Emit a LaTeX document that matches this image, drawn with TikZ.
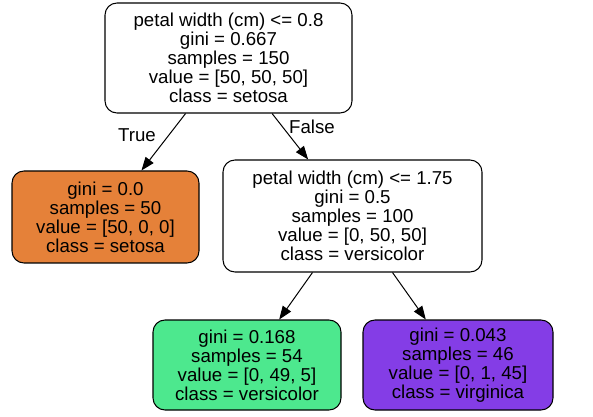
\documentclass[tikz,border=0pt]{standalone}
\usepackage{fontspec}
\setmainfont{Liberation Sans}
\usetikzlibrary{arrows.meta}

\definecolor{setosacol}{HTML}{E58139}
\definecolor{versicol}{HTML}{4DE88E}
\definecolor{virgcol}{HTML}{843DE6}

\begin{document}
\begin{tikzpicture}[x = 0.75pt, y = -0.75pt, font = \fontsize{14}{14.25}\selectfont,
            treenode/.style = {draw, rounded corners = 9pt, align = center, inner sep = 0pt, line width = 0.8pt},
            edgearrow/.style = {-{Triangle[length = 10pt, width = 7.5pt]}, line width = 0.75pt}]
            \useasboundingbox (0,0) rectangle (593,417);
            
            \node [treenode, fill = white, minimum width = 185.25pt, minimum height = 82.5pt] (root) at (228.5,58)
                {petal width (cm) <= 0.8\\gini = 0.667\\samples = 150\\value = [50, 50, 50]\\class = setosa};
            \node [treenode, fill = setosacol, minimum width = 140.25pt, minimum height = 69pt] (setosa) at (105.5,217)
                {gini = 0.0\\samples = 50\\value = [50, 0, 0]\\class = setosa};
            \node [treenode, fill = white, minimum width = 194.25pt, minimum height = 84pt] (split) at (352.5,216)
                {petal width (cm) <= 1.75\\gini = 0.5\\samples = 100\\value = [0, 50, 50]\\class = versicolor};
            \node [treenode, fill = versicol, minimum width = 141pt, minimum height = 67.5pt] (versi) at (247,365)
                {gini = 0.168\\samples = 54\\value = [0, 49, 5]\\class = versicolor};
            \node [treenode, fill = virgcol, minimum width = 142.5pt, minimum height = 67.5pt] (virg) at (458,365)
                {gini = 0.043\\samples = 46\\value = [0, 1, 45]\\class = virginica};
            
            \draw [edgearrow] (root) -- (setosa);
            \draw [edgearrow] (root) -- (split);
            \draw [edgearrow] (split) -- (versi);
            \draw [edgearrow] (split) -- (virg);
            
            \node (truelbl) at (137,135) {True};
            \node (falselbl) at (312,127) {False};
        \end{tikzpicture}
\end{document}
